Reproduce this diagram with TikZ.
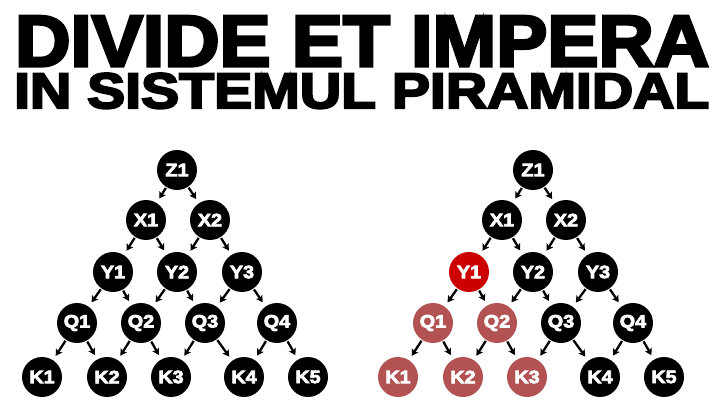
\documentclass[tikz,border=0pt]{standalone}
\usepackage{fontspec}
\usetikzlibrary{positioning,arrows.meta}
\newfontfamily\heavy{Liberation Sans Bold}[FakeBold=4]
\newfontfamily\heavywide{Liberation Sans Bold}[FakeBold=4,FakeStretch=1.1]
\definecolor{hotred}{RGB}{204,0,0}
\definecolor{dimred}{RGB}{178,82,82}

\tikzstyle{knot} = [circle, fill=black, minimum size=40pt, inner sep=0pt, text=white, font=\heavywide\fontsize{18pt}{18pt}\selectfont]
\tikzstyle{pick} = [knot, fill=hotred]
\tikzstyle{done} = [knot, fill=dimred]
\tikzstyle{headline} = [inner sep=0pt, anchor=north west]

\begin{document}
\begin{tikzpicture}[x=1pt,y=-1pt,>={Stealth[length=6.5pt,width=7.5pt,inset=1.5pt]},line width=2.3pt,node distance=64pt]
\useasboundingbox (0,0) rectangle (716,420);
\node[headline] (t1) at (14,15) {\resizebox{694pt}{50pt}{\heavy DIVIDE ET IMPERA}};
\node[headline] (t2) at (13,72) {\resizebox{695pt}{35pt}{\heavy IN SISTEMUL PIRAMIDAL}};

% left pyramid
\node[knot] (Z1) at (177,170) {Z1};
\node[knot] (X1) at (146,220) {X1};
\node[knot,right of=X1] (X2) {X2};
\node[knot] (Y1) at (113,272) {Y1};
\node[knot,right of=Y1] (Y2) {Y2};
\node[knot,right of=Y2,node distance=65pt] (Y3) {Y3};
\node[knot] (Q1) at (77,323) {Q1};
\node[knot,right of=Q1] (Q2) {Q2};
\node[knot,right of=Q2] (Q3) {Q3};
\node[knot,right of=Q3,node distance=72pt] (Q4) {Q4};
\node[knot] (K1) at (42,377) {K1};
\node[knot,right of=K1,node distance=65pt] (K2) {K2};
\node[knot,right of=K2] (K3) {K3};
\node[knot,right of=K3,node distance=73pt] (K4) {K4};
\node[knot,right of=K4] (K5) {K5};

\draw[->,shorten >=4pt] (Z1) edge (X1) edge (X2);
\draw[->,shorten >=4pt] (X1) edge (Y1) edge (Y2);
\draw[->,shorten >=4pt] (X2) edge (Y2) edge (Y3);
\draw[->,shorten >=4pt] (Y1) edge (Q1) edge (Q2);
\draw[->,shorten >=4pt] (Y2) edge (Q2) edge (Q3);
\draw[->,shorten >=4pt] (Y3) edge (Q3) edge (Q4);
\draw[->,shorten >=4pt] (Q1) edge (K1) edge (K2);
\draw[->,shorten >=4pt] (Q2) edge (K2) edge (K3);
\draw[->,shorten >=4pt] (Q3) edge (K3) edge (K4);
\draw[->,shorten >=4pt] (Q4) edge (K4) edge (K5);

% right pyramid, Y1 picked
\node[knot] (rZ1) at (533,170) {Z1};
\node[knot] (rX1) at (502,220) {X1};
\node[knot,right of=rX1] (rX2) {X2};
\node[pick] (rY1) at (469,272) {Y1};
\node[knot,right of=rY1] (rY2) {Y2};
\node[knot,right of=rY2,node distance=65pt] (rY3) {Y3};
\node[done] (rQ1) at (433,323) {Q1};
\node[done,right of=rQ1] (rQ2) {Q2};
\node[knot,right of=rQ2] (rQ3) {Q3};
\node[knot,right of=rQ3,node distance=72pt] (rQ4) {Q4};
\node[done] (rK1) at (398,377) {K1};
\node[done,right of=rK1,node distance=65pt] (rK2) {K2};
\node[done,right of=rK2] (rK3) {K3};
\node[knot,right of=rK3,node distance=73pt] (rK4) {K4};
\node[knot,right of=rK4] (rK5) {K5};

\draw[->,shorten >=4pt] (rZ1) edge (rX1) edge (rX2);
\draw[->,shorten >=4pt] (rX1) edge (rY1) edge (rY2);
\draw[->,shorten >=4pt] (rX2) edge (rY2) edge (rY3);
\draw[->,shorten >=4pt] (rY1) edge (rQ1) edge (rQ2);
\draw[->,shorten >=4pt] (rY2) edge (rQ2) edge (rQ3);
\draw[->,shorten >=4pt] (rY3) edge (rQ3) edge (rQ4);
\draw[->,shorten >=4pt] (rQ1) edge (rK1) edge (rK2);
\draw[->,shorten >=4pt] (rQ2) edge (rK2) edge (rK3);
\draw[->,shorten >=4pt] (rQ3) edge (rK3) edge (rK4);
\draw[->,shorten >=4pt] (rQ4) edge (rK4) edge (rK5);

\end{tikzpicture}
\end{document}
